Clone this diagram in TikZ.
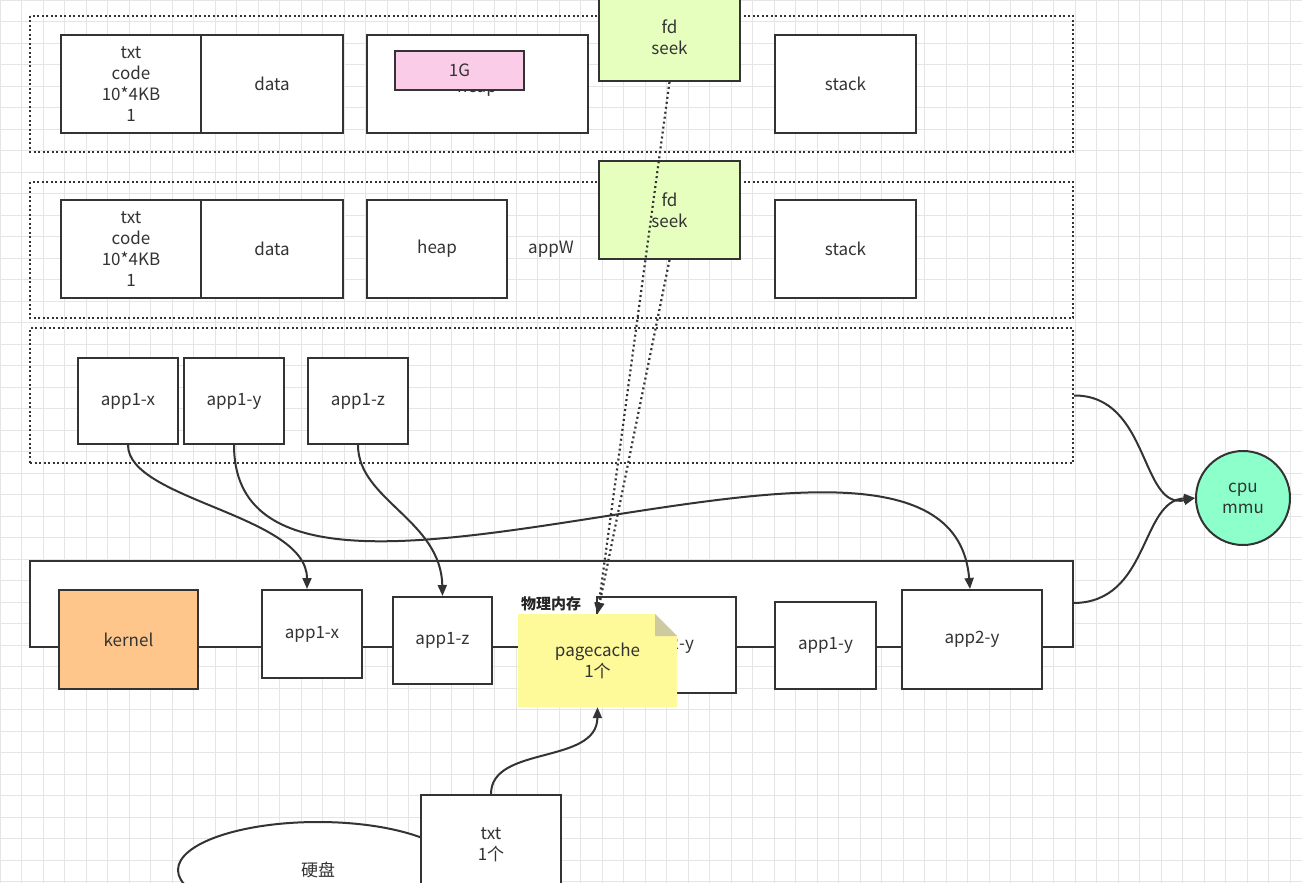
\documentclass[tikz,border=0pt]{standalone}
\usepackage{fontspec}
\setmainfont{Noto Sans CJK SC}
\usetikzlibrary{arrows.meta,shapes.geometric}
\begin{document}
\begin{tikzpicture}[x=1pt,y=-1pt,font=\fontsize{17}{21}\selectfont,
 box/.style={draw=black!80,line width=2pt,fill=white,inner sep=0pt,align=center,text=black!80},
 cont/.style={draw=black!80,line width=2pt,dash pattern=on 2pt off 2.5pt},
 conn/.style={draw=black!80,line width=2pt,-{Triangle[length=11pt,width=9pt]}},
 dconn/.style={draw=black!80,line width=2.2pt,dash pattern=on 2pt off 3pt,-{Triangle[length=11pt,width=9pt]}}]
\useasboundingbox (0,0) rectangle (1302,883);
\fill[white] (0,0) rectangle (1302,883);
\foreach \i in {0,...,61} {\draw[black!10,line width=0.8pt] (\i*21.5,0) -- (\i*21.5,883);}
\foreach \i in {0,...,41} {\draw[black!10,line width=0.8pt] (0,\i*21.5) -- (1302,\i*21.5);}
% row containers
\draw[cont] (30,16) rectangle (1073,152);
\draw[cont] (30,182) rectangle (1073,318);
\node[cont,minimum width=1043pt,minimum height=135pt,inner sep=0pt] (r3) at (551.5,395.5) {};
% row 1
\node[box,minimum width=140pt,minimum height=97pt] at (131,84) {txt\\code\\10*4KB\\1};
\node[box,minimum width=142pt,minimum height=97pt] at (272,84) {data};
\node[box,minimum width=221pt,minimum height=97pt] at (477.5,84) {};
\node[text=black!80] at (477,88) {heap};
\node[box,fill=magenta!20!white,minimum width=129pt,minimum height=39pt] at (459.5,70.5) {1G};
\node[box,fill=green!40!yellow!25!white,minimum width=141pt,minimum height=88pt] (fd1) at (669.5,37) {fd\\seek};
\node[box,minimum width=141pt,minimum height=97pt] at (845.5,84) {stack};
% row 2
\node[box,minimum width=140pt,minimum height=98pt] at (131,249) {txt\\code\\10*4KB\\1};
\node[box,minimum width=142pt,minimum height=98pt] at (272,249) {data};
\node[box,minimum width=140pt,minimum height=98pt] at (437,249) {heap};
\node[text=black!80] at (551,249) {appW};
\node[box,fill=green!40!yellow!25!white,minimum width=141pt,minimum height=98pt] (fd2) at (669.5,210) {fd\\seek};
\node[box,minimum width=141pt,minimum height=98pt] at (845.5,249) {stack};
% row 3
\node[box,minimum width=100pt,minimum height=86pt] (vx) at (128,401) {app1-x};
\node[box,minimum width=100pt,minimum height=86pt] (vy) at (234,401) {app1-y};
\node[box,minimum width=100pt,minimum height=86pt] (vz) at (358,401) {app1-z};
% cpu
\node[circle,draw=black!80,line width=2pt,fill=green!45!cyan!45!white,minimum size=94pt,align=center,inner sep=0pt,text=black!80] (cpu) at (1243,498) {cpu\\mmu};
% physical memory
\node[draw=black!80,line width=2pt,fill=white,minimum width=1043pt,minimum height=86pt,inner sep=0pt] (pm) at (551.5,604) {};
\node[box,fill=orange!45!white,minimum width=139pt,minimum height=99pt] at (128.5,639.5) {kernel};
\node[box,minimum width=100pt,minimum height=88pt] (px) at (312,634) {app1-x};
\node[box,minimum width=99pt,minimum height=87pt] (pz) at (442.5,640.5) {app1-z};
\node[box,minimum width=139pt,minimum height=96pt] at (666.5,645) {app2-y};
\node[box,minimum width=101pt,minimum height=87pt] at (825.5,645.5) {app1-y};
\node[box,minimum width=140pt,minimum height=99pt] (py) at (972,639.5) {app2-y};
\node[font=\fontsize{15}{18}\selectfont\bfseries,text=black!85] at (551,604) {物理内存};
% pagecache note
\fill[yellow!40!white] (518,614) -- (655,614) -- (677,636) -- (677,707) -- (518,707) -- cycle;
\fill[yellow!50!black!45!white] (655,614) -- (677,636) -- (655,636) -- cycle;
\node[align=center,text=black!80,inner sep=0pt,minimum width=159pt,minimum height=93pt] (pc) at (597.5,660.5) {pagecache\\1个};
% disk
\node[ellipse,draw=black!80,line width=2pt,fill=white,minimum width=280pt,minimum height=96pt,text=black!80] at (318,870) {};
\node[text=black!80] at (318,870) {硬盘};
\node[box,minimum width=140pt,minimum height=100pt] (txt) at (491,845) {txt\\1个};
% connectors
\draw[conn] (vx.south) .. controls (128,500) and (307,515) .. (px.north -| 307,0);
\draw[conn] (vz.south) .. controls (358,500) and (441,520) .. (pz.north);
\draw[conn] (vy.south) .. controls (234,700) and (950,340) .. (py.north -| 970,0);
\draw[dconn] (fd1.south) -- (pc.north);
\draw[dconn] (fd2.south) -- (pc.north);
\draw[conn] (txt.north) .. controls (491,745) and (597,765) .. (pc.south);
\draw[conn] (r3.east) .. controls (1150,395) and (1140,510) .. (cpu.west);
\draw[conn] (1073,603) .. controls (1150,603) and (1140,500) .. (cpu.west);
\end{tikzpicture}
\end{document}
